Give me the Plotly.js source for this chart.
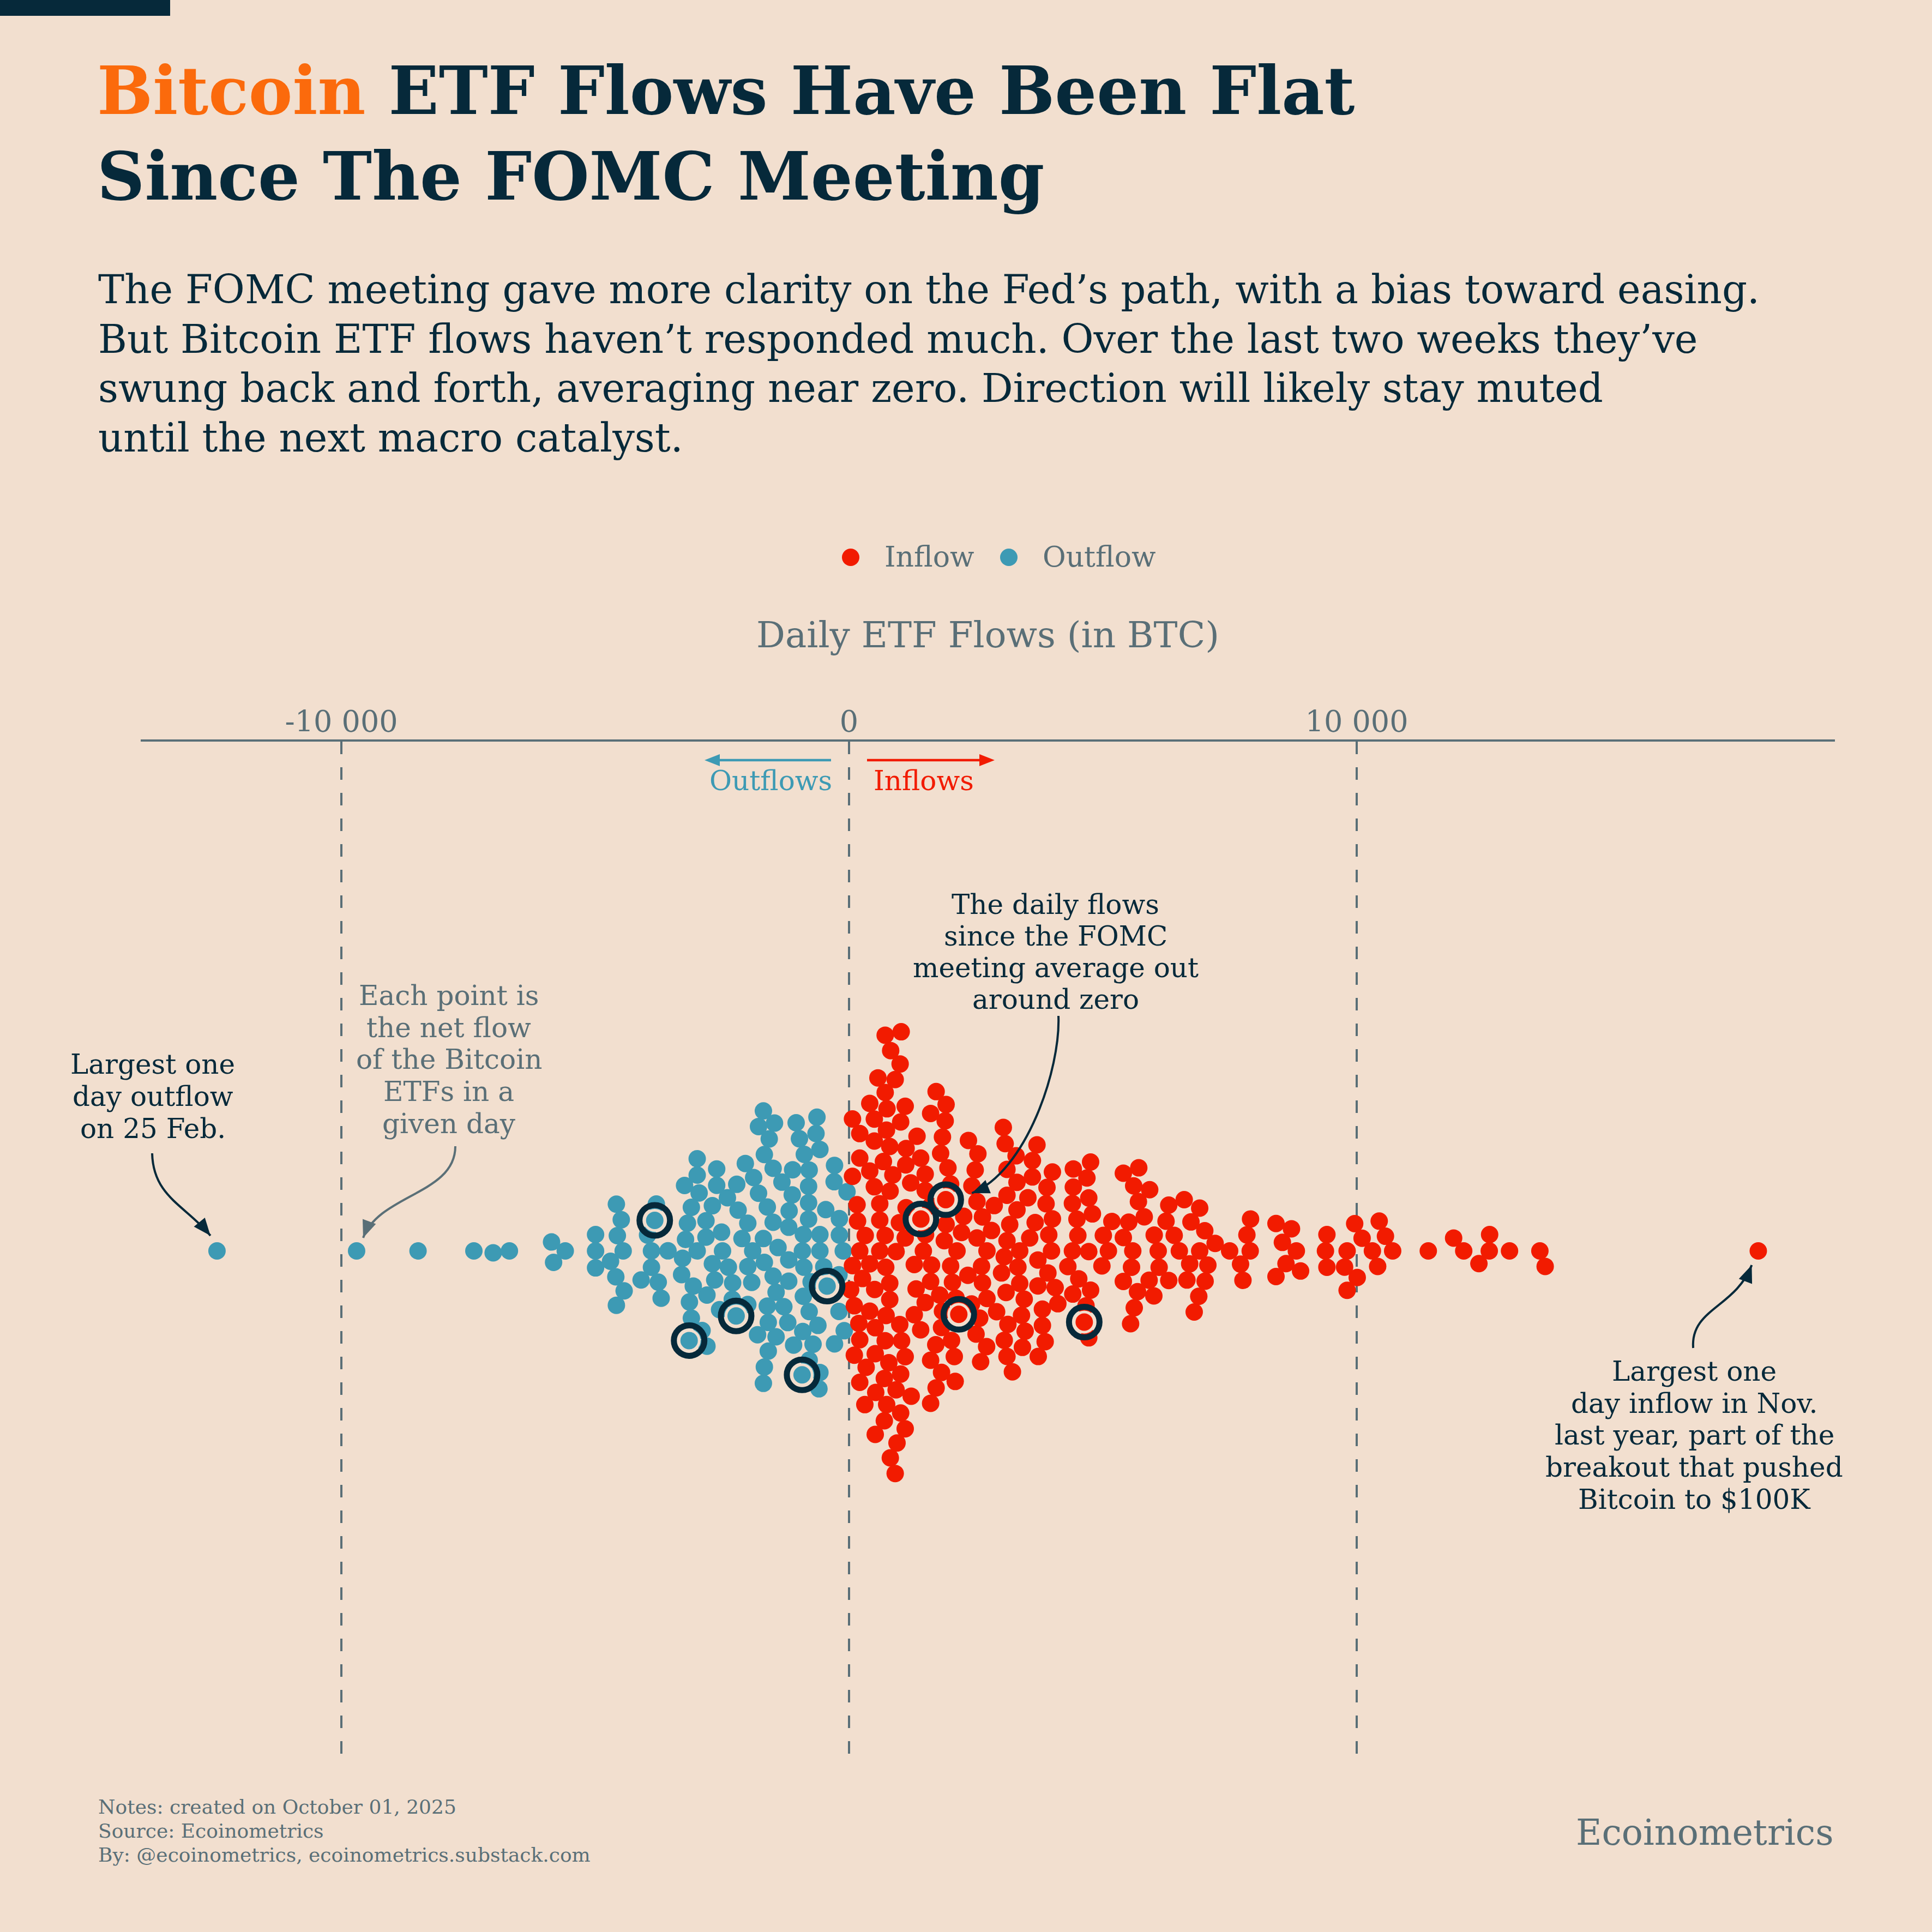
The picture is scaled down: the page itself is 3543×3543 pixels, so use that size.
<!DOCTYPE html>
<html>
<head>
<meta charset="utf-8">
<script src="https://cdn.plot.ly/plotly-3.0.1.min.js"></script>
<style>
  html, body { margin: 0; padding: 0; background: #f2dfcf; }
  #chart { width: 3543px; height: 3543px; }
</style>
</head>
<body>
<div id="chart"></div>
<script>
// Daily net flows of the US spot Bitcoin ETFs, in BTC (one value per trading day)
const outflowDays = [
  -12450, -9700, -8490, -7390, -7010, -6690, -5860, -5590, -5820,
  -1322, -900, -632, -797, -191, -1111, -1687, -1572, -709, -498,
  -2212, -1917, -1468, -977, -797, -294, -40, -2818, -2550, -2377,
  -1783, -1610, -1188, -651, -1437, -3279, -3106, -2692, -2043, -912,
  -797, -198, -2293, -1687, -1591, -1188, -2607, -2953, -3892, -3758,
  -3566, -3150, -4594, -4449, -4993, -4698, -4096, -3827, -3106, -2991,
  -2799, -2492, -1994, -1495, -1042, -881, -747, -574, -432, -114,
  -1879, -1668, -4583, -3240, -3298, -2224, -2818, -2607, -1207, -1399,
  -1668, -613, -900, -4993, -4993, -4583, -4487, -3969, -3796, -3144,
  -2991, -2396, -1994, -1591, -785, -198, -4430, -4564, -3701, -3892,
  -3183, -2692, -1119, -574, -1802, -1495, -1668, -2300, -2109, -925,
  -1180, -286, -95, -3068, -2895, -2646, -3221, -2991, -2511, -2799,
  -1783, -1994, -1437, -1610, -919, -574, -785, -286, -2185, -1898,
  -1495, -1188, -1687, -785, -574, -1092, -1284, -889, -459, -191, -593
];
const inflowDays = [
  737, 505, 695, 992, 1224, 211, 809, 1106, 408, 723, 1607, 1905, 68, 498, 605, 909, 1124, 1464,
  1804, 168, 1006, 784, 1507, 311, 712, 1339, 1708, 1912, 2091, 2420, 2610, 2907, 3308, 3727, 3523, 3111,
  211, 498, 605, 927, 1106, 1607, 1822, 2001, 2259, 2520, 2710, 3129, 3057, 3415, 3666, 3988, 4113, 4407, 4758,
  68, 319, 712, 802, 1027, 1411, 1786, 2352, 2574, 2807, 3290, 3451, 3702, 3881, 4489, 4722,
  104, 408, 526, 863, 1106, 1500, 1625, 1840, 2037, 2162, 2485, 2628, 3111, 3093, 3362, 3612, 3917, 4006,
  4418, 4525, 4686, 4758,
  211, 748, 730, 1017, 1285, 1876, 2073, 2860, 3039, 3308, 3720, 3809, 4400, 4722,
  211, 498, 945, 1214, 1607, 1822, 2413, 2592, 3469, 3934, 4418, 4668,
  68, 408, 677, 813, 1035, 1415, 1894, 2109, 2717, 3111, 3165, 3612, 4060, 4507, 4722,
  158, 712, 1117, 1607, 1715, 2216, 2520, 3057, 3362, 3863, 3720, 4310, 4633,
  516, 909, 1017, 1321, 1912, 2001, 2341, 2538, 2717, 3218, 3397, 3559, 3899, 4006, 4400, 4794,
  265, 569, 193, 802, 1124, 1500, 1715, 2019, 2628, 3075, 3111, 3326, 3809,
  32, 516, 695, 927, 1411, 1840, 2127, 2502, 3004,
  104, 337, 605, 1017, 1500, 1607, 1948,
  802, 1106, 408, 712, 211, 516, 820, 999, 1285, 741,
  5009, 5177, 4981, 5109, 5403, 5682, 5564, 5607, 5510, 5707, 5618, 5403, 5546, 5815, 5589, 5922,
  6108, 5403, 5700, 6090, 6298, 5911, 6004, 6244, 6506, 6656, 7007, 6907, 6907, 7211, 6602, 6735,
  6011, 6298, 6405, 6799, 7014, 7068, 6889, 6710, 7497, 7759, 7712, 7909, 7837, 7902, 8410, 8607,
  8811, 8894, 8536, 8410, 8715, 9384, 9413, 9413,
  9811, 9960, 10106, 10010, 9761, 9811, 10566, 10413, 10443, 10708, 10309, 11410, 11909, 12108,
  12407, 12611, 12618, 13010, 13608, 13712,
  17910
];
// Flows recorded since the FOMC meeting (ringed)
const sinceFomc = [-3827, -3150, -2224, -925, -432, 1415, 1905, 2162, 4633];

const tickValues = [-10000, 0, 10000];
const tickLabels = ['-10 000', '0', '10 000'];

// ---- page geometry ----
const W = 3543, H = 3543;
const M = { l: 258, r: 178, t: 1360, b: 312 };
const PW = W - M.l - M.r, PH = H - M.t - M.b;
const X_RANGE = [-13953, 19420];
const Y_TOP = 934, Y_BOTTOM = -(PH - Y_TOP);      // y in pixel units, 0 = swarm centre
const kx = PW / (X_RANGE[1] - X_RANGE[0]);
const px = x => (x - M.l) / PW;                     // page pixel -> paper x
const py = y => (H - M.b - y) / PH;                 // page pixel -> paper y
const pageX = v => M.l + (v - X_RANGE[0]) * kx;
const pageY = y => M.t + (Y_TOP - y);

// ---- colours & fonts ----
const BG = '#f2dfcf', NAVY = '#06293a', SLATE = '#5a6f77';
const RED = '#f21b00', BLUE = '#3d9ab4', ORANGE = '#fb6a0c';
const SERIF = '"DejaVu Serif", "Liberation Serif", serif';

// ---- beeswarm layout: x fixed by the value, y found greedily ----
const all = outflowDays.map(v => ({ v, side: 'out' }))
  .concat(inflowDays.map(v => ({ v, side: 'in' })));
const D = 30;
const order = all.map((d, i) => i)
  .sort((a, b) => ((a * 0.6180339887) % 1) - ((b * 0.6180339887) % 1));
const placed = [];
let flip = 1;
for (const i of order) {
  const x = all[i].v * kx;
  const near = placed.filter(p => Math.abs(p.x - x) < D);
  const cands = [0];
  for (const p of near) {
    const h = Math.sqrt(D * D - (p.x - x) ** 2);
    cands.push(p.y + h, p.y - h);
  }
  cands.sort((a, b) => (Math.abs(a) - Math.abs(b)) || (a - b) * flip);
  let y = 0;
  for (const c of cands) {
    if (near.every(p => (p.x - x) ** 2 + (p.y - c) ** 2 >= D * D - 0.01)) { y = c; break; }
  }
  flip = -flip;
  all[i].y = y;
  placed.push({ x, y });
}
const outY = all.filter(d => d.side === 'out').map(d => d.y);
const inY = all.filter(d => d.side === 'in').map(d => d.y);
const yOf = v => all.find(d => d.v === v).y;
const fomcY = sinceFomc.map(yOf);

const traces = [
  { type: 'scatter', mode: 'markers', x: outflowDays, y: outY, name: 'Outflow', hoverinfo: 'skip',
    marker: { size: 32, color: BLUE, line: { width: 0 } } },
  { type: 'scatter', mode: 'markers', x: inflowDays, y: inY, name: 'Inflow', hoverinfo: 'skip',
    marker: { size: 32, color: RED, line: { width: 0 } } },
  { type: 'scatter', mode: 'markers', x: sinceFomc, y: fomcY, hoverinfo: 'skip',
    marker: { size: 56, color: 'rgba(0,0,0,0)', line: { width: 11, color: NAVY } } },
  { type: 'scatter', mode: 'markers', x: sinceFomc, y: fomcY, hoverinfo: 'skip',
    marker: { size: 37, color: sinceFomc.map(v => v < 0 ? BLUE : RED), line: { width: 5, color: BG } } }
];

// ---- text helpers ----
const annotations = [];
function textLines(lines, x, yFirst, step, size, color, anchor) {
  lines.forEach((t, i) => annotations.push({
    text: t, xref: 'paper', yref: 'paper', x: px(x), y: py(yFirst + i * step),
    xanchor: anchor, yanchor: 'middle', showarrow: false, align: anchor,
    font: { family: SERIF, size, color }
  }));
}

textLines([
  'The FOMC meeting gave more clarity on the Fed\u2019s path, with a bias toward easing.',
  'But Bitcoin ETF flows haven\u2019t responded much. Over the last two weeks they\u2019ve',
  'swung back and forth, averaging near zero. Direction will likely stay muted',
  'until the next macro catalyst.'
], 178, 531, 90.5, 72, NAVY, 'left');

// legend
textLines(['Inflow'], 1620, 1021, 0, 52, SLATE, 'left');
textLines(['Outflow'], 1910, 1021, 0, 52, SLATE, 'left');

// direction labels under the axis
textLines(['Outflows'], 1413, 1432, 0, 50, BLUE, 'center');
textLines(['Inflows'], 1694, 1432, 0, 50, RED, 'center');

textLines(['The daily flows', 'since the FOMC', 'meeting average out', 'around zero'],
  1936, 1659, 58, 50, NAVY, 'center');
textLines(['Each point is', 'the net flow', 'of the Bitcoin', 'ETFs in a', 'given day'],
  823, 1826, 58.7, 50, SLATE, 'center');
textLines(['Largest one', 'day outflow', 'on 25 Feb.'],
  280, 1952, 59, 50, NAVY, 'center');
textLines(['Largest one', 'day inflow in Nov.', 'last year, part of the', 'breakout that pushed', 'Bitcoin to $100K'],
  3107, 2515, 58.7, 50, NAVY, 'center');

textLines(['Notes: created on October 01, 2025', 'Source: Ecoinometrics',
  'By: @ecoinometrics, ecoinometrics.substack.com'], 178, 3313, 44, 36, SLATE, 'left');
textLines(['Ecoinometrics'], 3365, 3360, 0, 65, SLATE, 'right');

// ---- shapes ----
const P = (x, y) => `${px(x).toFixed(5)},${py(y).toFixed(5)}`;
const shapes = [];
shapes.push({ type: 'rect', xref: 'paper', yref: 'paper', x0: px(0), x1: px(312), y0: py(29), y1: py(0),
  fillcolor: NAVY, line: { width: 0 } });
[[1560, RED], [1850, BLUE]].forEach(([x, c]) => shapes.push({
  type: 'circle', xref: 'paper', yref: 'paper', xsizemode: 'pixel', ysizemode: 'pixel',
  xanchor: px(x), yanchor: py(1022), x0: -16, x1: 16, y0: -16, y1: 16,
  fillcolor: c, line: { width: 0 } }));

function arrowHead(tip, from, color, len, half) {
  const dx = tip[0] - from[0], dy = tip[1] - from[1];
  const n = Math.hypot(dx, dy), ux = dx / n, uy = dy / n;
  const bx = tip[0] - ux * len, by = tip[1] - uy * len;
  shapes.push({ type: 'path', xref: 'paper', yref: 'paper',
    path: `M${P(tip[0], tip[1])} L${P(bx - uy * half, by + ux * half)} L${P(bx + uy * half, by - ux * half)} Z`,
    fillcolor: color, line: { width: 0 } });
}
function curvedArrow(s, c1, c2, e, color) {
  shapes.push({ type: 'path', xref: 'paper', yref: 'paper',
    path: `M${P(...s)} C${P(...c1)} ${P(...c2)} ${P(...e)}`,
    line: { color, width: 4 }, fillcolor: 'rgba(0,0,0,0)' });
  arrowHead(e, c2, color, 32, 13);
}
function straightArrow(x0, x1, y, color) {
  const dir = Math.sign(x1 - x0);
  shapes.push({ type: 'line', xref: 'paper', yref: 'paper', x0: px(x0), x1: px(x1 - dir * 20),
    y0: py(y), y1: py(y), line: { color, width: 4.5 } });
  arrowHead([x1, y], [x0, y], color, 28, 11);
}
straightArrow(1524, 1292, 1394, BLUE);
straightArrow(1590, 1824, 1394, RED);

// annotation arrows aimed at the marks they describe
const dotOut = [pageX(-12450), pageY(yOf(-12450))];
const dotEach = [pageX(-9700), pageY(yOf(-9700))];
const dotIn = [pageX(17910), pageY(yOf(17910))];
const ring = [pageX(1905), pageY(yOf(1905))];
{
  const e = [dotOut[0] - 12, dotOut[1] - 28];
  curvedArrow([279, 2115], [281, 2195], [e[0] - 45, e[1] - 55], e, NAVY);
}
{
  const e = [dotEach[0] + 12, dotEach[1] - 24];
  curvedArrow([835, 2102], [835, 2190], [e[0] + 30, e[1] - 80], e, SLATE);
}
{
  const e = [ring[0] + 48, ring[1] - 12];
  curvedArrow([1941, 1863], [1945, 1960], [e[0] + 100, e[1] - 40], e, NAVY);
}
{
  const e = [dotIn[0] - 12, dotIn[1] + 26];
  curvedArrow([3105, 2472], [3100, 2400], [e[0] - 30, e[1] + 78], e, NAVY);
}

const layout = {
  width: W, height: H,
  paper_bgcolor: BG, plot_bgcolor: BG,
  margin: M,
  showlegend: false,
  title: {
    text: `<b><span style="color:${ORANGE}">Bitcoin</span> ETF Flows Have Been Flat<br>Since The FOMC Meeting</b>`,
    font: { family: SERIF, size: 121, color: NAVY },
    xref: 'container', yref: 'container', x: 178 / W, xanchor: 'left', y: 1 - 209 / H, yanchor: 'top'
  },
  xaxis: {
    range: X_RANGE, side: 'top',
    tickvals: tickValues, ticktext: tickLabels, ticks: '',
    tickfont: { family: SERIF, size: 54, color: SLATE },
    ticklabelstandoff: -8,
    showgrid: true, gridcolor: SLATE, gridwidth: 4.5, griddash: '23px,24px',
    zeroline: false, showline: true, linecolor: SLATE, linewidth: 4.5,
    title: { text: 'Daily ETF Flows (in BTC)', font: { family: SERIF, size: 66, color: SLATE }, standoff: 84 },
    fixedrange: true
  },
  yaxis: { range: [Y_BOTTOM, Y_TOP], visible: false, fixedrange: true },
  annotations, shapes
};

Plotly.newPlot('chart', traces, layout, { staticPlot: true, displayModeBar: false });
</script>
</body>
</html>
